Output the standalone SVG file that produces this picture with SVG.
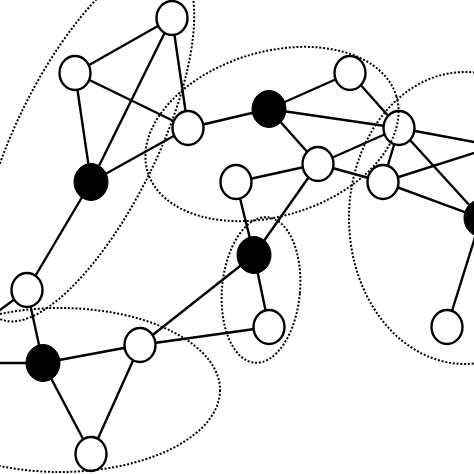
<svg xmlns="http://www.w3.org/2000/svg" width="474" height="474" viewBox="0 0 474 474">
<style>
.e{stroke:#000;stroke-width:2.4;fill:none;stroke-linecap:round}
.w{fill:#fff;stroke:#000;stroke-width:2.4}
.b{fill:#000;stroke:#000;stroke-width:1}
.g{fill:none;stroke:#000;stroke-width:2;stroke-dasharray:2 1.8}
</style>
<rect width="474" height="474" fill="#fff"/>
<g id="connectors">
<line class="e" x1="172" y1="18" x2="75" y2="73"/>
<line class="e" x1="172" y1="18" x2="188" y2="128"/>
<line class="e" x1="172" y1="18" x2="91" y2="182"/>
<line class="e" x1="75" y1="73" x2="188" y2="128"/>
<line class="e" x1="75" y1="73" x2="91" y2="182"/>
<line class="e" x1="188" y1="128" x2="91" y2="182"/>
<line class="e" x1="188" y1="128" x2="269" y2="109"/>
<line class="e" x1="91" y1="182" x2="27" y2="290"/>
<line class="e" x1="27" y1="290" x2="43" y2="363"/>
<line class="e" x1="27" y1="290" x2="-15" y2="321"/>
<line class="e" x1="43" y1="363" x2="-20" y2="363"/>
<line class="e" x1="43" y1="363" x2="140" y2="345"/>
<line class="e" x1="43" y1="363" x2="91" y2="454"/>
<line class="e" x1="140" y1="345" x2="91" y2="454"/>
<line class="e" x1="140" y1="345" x2="254" y2="255"/>
<line class="e" x1="140" y1="345" x2="269" y2="327"/>
<line class="e" x1="254" y1="255" x2="269" y2="327"/>
<line class="e" x1="254" y1="255" x2="318" y2="164"/>
<line class="e" x1="236" y1="182" x2="318" y2="164"/>
<line class="e" x1="236" y1="182" x2="254" y2="255"/>
<line class="e" x1="269" y1="109" x2="350" y2="73"/>
<line class="e" x1="269" y1="109" x2="399" y2="128"/>
<line class="e" x1="269" y1="109" x2="318" y2="164"/>
<line class="e" x1="318" y1="164" x2="399" y2="128"/>
<line class="e" x1="318" y1="164" x2="383" y2="182"/>
<line class="e" x1="350" y1="73" x2="399" y2="128"/>
<line class="e" x1="399" y1="128" x2="383" y2="182"/>
<line class="e" x1="399" y1="128" x2="481" y2="218"/>
<line class="e" x1="383" y1="182" x2="481" y2="218"/>
<line class="e" x1="399" y1="128" x2="496" y2="146"/>
<line class="e" x1="383" y1="182" x2="496" y2="146"/>
<line class="e" x1="447" y1="327" x2="481" y2="218"/>
</g>
<g id="nA"><ellipse class="w" cx="172" cy="18" rx="15.5" ry="17"/></g>
<g id="nB"><ellipse class="w" cx="75" cy="73" rx="15.5" ry="17"/></g>
<g id="nC"><ellipse class="w" cx="188" cy="128" rx="15.5" ry="17"/></g>
<g id="nD"><ellipse class="b" cx="91" cy="182" rx="17" ry="18.5"/></g>
<g id="nJ"><ellipse class="w" cx="236" cy="182" rx="15.5" ry="17"/></g>
<g id="nF"><ellipse class="b" cx="269" cy="109" rx="17" ry="18.5"/></g>
<g id="nE"><ellipse class="w" cx="350" cy="73" rx="15.5" ry="17"/></g>
<g id="nG"><ellipse class="w" cx="399" cy="128" rx="15.5" ry="17"/></g>
<g id="nH"><ellipse class="w" cx="318" cy="164" rx="15.5" ry="17"/></g>
<g id="nI"><ellipse class="w" cx="383" cy="182" rx="15.5" ry="17"/></g>
<g id="nK"><ellipse class="b" cx="481" cy="218" rx="17" ry="18.5"/></g>
<g id="nL"><ellipse class="w" cx="27" cy="290" rx="15.5" ry="17"/></g>
<g id="nM"><ellipse class="b" cx="43" cy="363" rx="17" ry="18.5"/></g>
<g id="nN"><ellipse class="w" cx="140" cy="345" rx="15.5" ry="17"/></g>
<g id="nO"><ellipse class="w" cx="91" cy="454" rx="15.5" ry="17"/></g>
<g id="nP"><ellipse class="b" cx="254" cy="255" rx="17" ry="18.5"/></g>
<g id="nQ"><ellipse class="w" cx="269" cy="327" rx="15.5" ry="17"/></g>
<g id="nR"><ellipse class="w" cx="447" cy="327" rx="15.5" ry="17"/></g>
<g id="groups">
<ellipse class="g" cx="86.5" cy="140.8" rx="71" ry="198" transform="rotate(26 86.5 140.8)"/>
<ellipse class="g" cx="272" cy="134" rx="130" ry="82" transform="rotate(-17 272 134)"/>
<ellipse class="g" cx="465" cy="218" rx="116" ry="146"/>
<ellipse class="g" cx="261" cy="290" rx="39" ry="73" transform="rotate(5 261 290)"/>
<ellipse class="g" cx="60" cy="390" rx="160" ry="82"/>
</g>
</svg>
